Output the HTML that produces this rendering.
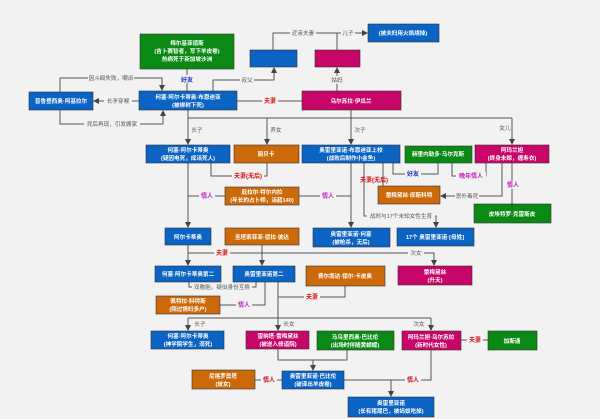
<!DOCTYPE html>
<html><head><meta charset="utf-8"><style>
html,body{margin:0;padding:0;background:#f2f2f2;}
svg{display:block;}
text{font-family:"Liberation Sans","Noto Sans CJK SC",sans-serif;}
.b{fill:#fff;font-size:5.6px;font-weight:bold;text-anchor:middle;}
.l{font-size:5.6px;text-anchor:middle;fill:#555;}
.r{font-size:6px;text-anchor:middle;fill:#d01010;font-weight:bold;}
.p{font-size:6px;text-anchor:middle;fill:#c020c0;font-weight:bold;}
.u{font-size:6px;text-anchor:middle;fill:#2030c0;font-weight:bold;}
.ln{stroke:#555;stroke-width:1;fill:none;}
.lb{fill:#f2f2f2;}
</style></head><body>
<svg width="600" height="419" viewBox="0 0 600 419" xmlns="http://www.w3.org/2000/svg">
<defs><marker id="a" markerWidth="6" markerHeight="6" refX="5" refY="3" orient="auto"><path d="M0,0 L6,3 L0,6 z" fill="#444"/></marker></defs>
<g class="ln">
<path d="M187,69 V91"/>
<path d="M60,92 V78 H162 V90" marker-end="url(#a)"/>
<path d="M139,101 H94" marker-end="url(#a)"/>
<path d="M60,110 V124 H163 V111" marker-end="url(#a)"/>
<path d="M213,91 V80 H274 V68" marker-end="url(#a)"/>
<path d="M237,101 H302"/>
<path d="M337,91 V68" marker-end="url(#a)"/>
<path d="M273,50 V33 H367" marker-end="url(#a)"/>
<path d="M337,50 V33"/>
<path d="M188,110 V118 H512 M351,110 V118"/>
<path d="M188,118 V144" marker-end="url(#a)"/>
<path d="M267,118 V144" marker-end="url(#a)"/>
<path d="M351,118 V144" marker-end="url(#a)"/>
<path d="M512,118 V144" marker-end="url(#a)"/>
<path d="M211,163 V176 H267 V163"/>
<path d="M188,163 V227" marker-end="url(#a)"/>
<path d="M188,196 H225 M299,196 H351"/>
<path d="M351,163 V227" marker-end="url(#a)"/>
<path d="M383,163 V186"/>
<path d="M393,163 V174 H438 V163"/>
<path d="M364,163 V216 H436 V227" marker-end="url(#a)"/>
<path d="M452,163 V176 H486 V163"/>
<path d="M502,163 V196 H441" marker-end="url(#a)"/>
<path d="M512,163 V204"/>
<path d="M188,245 V265" marker-end="url(#a)"/>
<path d="M188,253 H434 V265" marker-end="url(#a)"/>
<path d="M262,245 V265" marker-end="url(#a)"/>
<path d="M189,282 V287 H256 V282"/>
<path d="M265,282 V305 H220"/>
<path d="M345,286 V297 H278"/>
<path d="M278,282 V318 M188,318 H431"/>
<path d="M188,318 V330" marker-end="url(#a)"/>
<path d="M278,318 V330" marker-end="url(#a)"/>
<path d="M431,318 V330" marker-end="url(#a)"/>
<path d="M278,349 V360 H347 V350 M313,360 V370" marker-end="url(#a)"/>
<path d="M255,380 H282"/>
<path d="M431,350 V380 H344 M391,380 V396" marker-end="url(#a)"/>
<path d="M461,340 H488"/>
</g>
<!-- labels -->
<g>
<rect class="lb" x="180" y="75" width="14" height="8"/><text class="u" x="187" y="82">好友</text>
<rect class="lb" x="88" y="74" width="46" height="8"/><text class="l" x="111" y="80">因斗殴失败，嘲讽</text>
<rect class="lb" x="104" y="97" width="28" height="8"/><text class="l" x="118" y="103">长矛穿喉</text>
<rect class="lb" x="84" y="120" width="56" height="8"/><text class="l" x="112" y="126">死后再现，引发搬家</text>
<rect class="lb" x="240" y="76" width="14" height="8"/><text class="l" x="247" y="82">叔父</text>
<rect class="lb" x="262" y="97" width="16" height="8"/><text class="r" x="270" y="103">夫妻</text>
<rect class="lb" x="330" y="76" width="14" height="8"/><text class="l" x="337" y="82">姑妈</text>
<rect class="lb" x="290" y="29" width="26" height="8"/><text class="l" x="303" y="35">近亲夫妻</text>
<rect class="lb" x="341" y="29" width="14" height="8"/><text class="l" x="348" y="35">儿子</text>
<text class="l" x="197" y="132">长子</text>
<text class="l" x="276" y="132">养女</text>
<text class="l" x="360" y="132">次子</text>
<text class="l" x="505" y="130">女儿</text>
<rect class="lb" x="232" y="172" width="32" height="8"/><text class="r" x="248" y="178">夫妻(无后)</text>
<rect class="lb" x="199" y="192" width="16" height="8"/><text class="p" x="207" y="198">情人</text>
<rect class="lb" x="320" y="192" width="16" height="8"/><text class="p" x="328" y="198">情人</text>
<text class="r" x="374" y="182">夫妻(无后)</text>
<rect class="lb" x="405" y="170" width="16" height="8"/><text class="u" x="413" y="176">好友</text>
<rect class="lb" x="456" y="172" width="30" height="8"/><text class="p" x="471" y="178">晚年情人</text>
<rect class="lb" x="455" y="192" width="24" height="8"/><text class="l" x="467" y="198">意外毒死</text>
<rect class="lb" x="505" y="181" width="15" height="8"/><text class="p" x="513" y="187">情人</text>
<rect class="lb" x="367" y="212" width="68" height="8"/><text class="l" x="401" y="218">战时与17个未知女性生育</text>
<rect class="lb" x="214" y="249" width="16" height="8"/><text class="r" x="222" y="255">夫妻</text>
<rect class="lb" x="408" y="249" width="16" height="8"/><text class="l" x="416" y="255">次女</text>
<rect class="lb" x="192" y="283" width="60" height="8"/><text class="l" x="222" y="289">双胞胎，疑似身份互换</text>
<rect class="lb" x="236" y="301" width="16" height="8"/><text class="p" x="244" y="307">情人</text>
<rect class="lb" x="304" y="293" width="16" height="8"/><text class="r" x="312" y="299">夫妻</text>
<text class="l" x="200" y="326">长子</text>
<text class="l" x="289" y="326">长女</text>
<text class="l" x="419" y="326">次女</text>
<rect class="lb" x="261" y="376" width="16" height="8"/><text class="r" x="269" y="382">情人</text>
<rect class="lb" x="405" y="376" width="16" height="8"/><text class="r" x="413" y="382">情人</text>
<rect class="lb" x="467" y="336" width="16" height="8"/><text class="r" x="475" y="342">夫妻</text>
</g>
<!-- boxes -->
<g stroke="#333" stroke-width="0.6">
<rect x="140" y="34" width="94" height="35" fill="#0a8a14"/>
<rect x="250" y="50" width="47" height="17" fill="#0b63c4"/>
<rect x="315" y="50" width="45" height="17" fill="#c8066a"/>
<rect x="368" y="24" width="71" height="18" fill="#0b63c4"/>
<rect x="29" y="92" width="64" height="18" fill="#0b63c4"/>
<rect x="139" y="91" width="98" height="19" fill="#0b63c4"/>
<rect x="302" y="91" width="99" height="19" fill="#c8066a"/>
<rect x="146" y="145" width="84" height="18" fill="#0b63c4"/>
<rect x="234" y="145" width="65" height="18" fill="#cc6a0a"/>
<rect x="302" y="145" width="98" height="18" fill="#0b63c4"/>
<rect x="405" y="146" width="67" height="17" fill="#0a8a14"/>
<rect x="475" y="145" width="74" height="18" fill="#c8066a"/>
<rect x="225" y="187" width="74" height="18" fill="#cc6a0a"/>
<rect x="378" y="186" width="62" height="18" fill="#cc6a0a"/>
<rect x="474" y="204" width="77" height="19" fill="#0a8a14"/>
<rect x="165" y="228" width="46" height="17" fill="#0b63c4"/>
<rect x="225" y="228" width="74" height="17" fill="#cc6a0a"/>
<rect x="313" y="228" width="77" height="19" fill="#0b63c4"/>
<rect x="397" y="228" width="77" height="18" fill="#0b63c4"/>
<rect x="155" y="266" width="66" height="16" fill="#0b63c4"/>
<rect x="233" y="266" width="62" height="16" fill="#0b63c4"/>
<rect x="306" y="266" width="79" height="20" fill="#cc6a0a"/>
<rect x="398" y="266" width="74" height="19" fill="#c8066a"/>
<rect x="156" y="296" width="64" height="18" fill="#cc6a0a"/>
<rect x="151" y="331" width="73" height="18" fill="#0b63c4"/>
<rect x="246" y="331" width="63" height="18" fill="#c8066a"/>
<rect x="317" y="331" width="77" height="19" fill="#0a8a14"/>
<rect x="402" y="331" width="59" height="19" fill="#c8066a"/>
<rect x="488" y="331" width="49" height="19" fill="#0a8a14"/>
<rect x="192" y="370" width="63" height="19" fill="#cc6a0a"/>
<rect x="282" y="371" width="62" height="18" fill="#0b63c4"/>
<rect x="348" y="397" width="86" height="20" fill="#0b63c4"/>
</g>
<g>
<text class="b" x="187" y="45">梅尔基亚德斯</text><text class="b" x="187" y="53">(吉卜赛智者，写下羊皮卷)</text><text class="b" x="187" y="61">热病死于新加坡沙洲</text>
<text class="b" x="403" y="35">(被夫妇用火焰烧掉)</text>
<text class="b" x="61" y="103">普鲁登西奥·阿基拉尔</text>
<text class="b" x="188" y="99">何塞·阿尔卡蒂奥·布恩迪亚</text><text class="b" x="188" y="107">(被绑树下死)</text>
<text class="b" x="351" y="103">乌尔苏拉·伊瓜兰</text>
<text class="b" x="188" y="152">何塞·阿尔卡蒂奥</text><text class="b" x="188" y="160">(疑因电死，成活死人)</text>
<text class="b" x="266" y="156">丽贝卡</text>
<text class="b" x="351" y="152">奥雷里亚诺·布恩迪亚上校</text><text class="b" x="351" y="160">(战败后制作小金鱼)</text>
<text class="b" x="438" y="156">赫里内勒多·马尔克斯</text>
<text class="b" x="512" y="152">阿玛兰妲</text><text class="b" x="512" y="160">(终身未嫁，缠寿衣)</text>
<text class="b" x="262" y="194">庇拉尔·特尔内拉</text><text class="b" x="262" y="202">(年长的占卜师，活超140)</text>
<text class="b" x="409" y="197">蕾梅黛丝·摩斯科特</text>
<text class="b" x="512" y="216">皮埃特罗·克雷斯皮</text>
<text class="b" x="188" y="239">阿尔卡蒂奥</text>
<text class="b" x="262" y="239">圣塔索菲亚·德拉·彼达</text>
<text class="b" x="351" y="236">奥雷里亚诺·何塞</text><text class="b" x="351" y="244">(被枪杀，无后)</text>
<text class="b" x="435" y="239">17个 奥雷里亚诺·[母姓]</text>
<text class="b" x="188" y="276">何塞·阿尔卡蒂奥第二</text>
<text class="b" x="264" y="276">奥雷里亚诺第二</text>
<text class="b" x="345" y="278">费尔南达·德尔·卡皮奥</text>
<text class="b" x="435" y="274">蕾梅黛丝</text><text class="b" x="435" y="282">(升天)</text>
<text class="b" x="188" y="303">佩特拉·科特斯</text><text class="b" x="188" y="311">(陪过情妇多户)</text>
<text class="b" x="188" y="338">何塞·阿尔卡蒂奥</text><text class="b" x="188" y="346">(神学院学生，溺死)</text>
<text class="b" x="278" y="338">雷纳塔·蕾梅黛丝</text><text class="b" x="278" y="346">(被送入修道院)</text>
<text class="b" x="355" y="339">马乌里西奥·巴比伦</text><text class="b" x="355" y="347">(出场时伴随黄蝴蝶)</text>
<text class="b" x="431" y="339">阿玛兰妲·乌尔苏拉</text><text class="b" x="431" y="347">(新时代女性)</text>
<text class="b" x="512" y="343">加斯通</text>
<text class="b" x="223" y="378">尼格罗曼塔</text><text class="b" x="223" y="386">(妓女)</text>
<text class="b" x="313" y="378">奥雷里亚诺·巴比伦</text><text class="b" x="313" y="386">(破译出羊皮卷)</text>
<text class="b" x="391" y="405">奥雷里亚诺</text><text class="b" x="391" y="413">(长有猪尾巴，被蚂蚁吃掉)</text>
</g>
</svg>
</body></html>
